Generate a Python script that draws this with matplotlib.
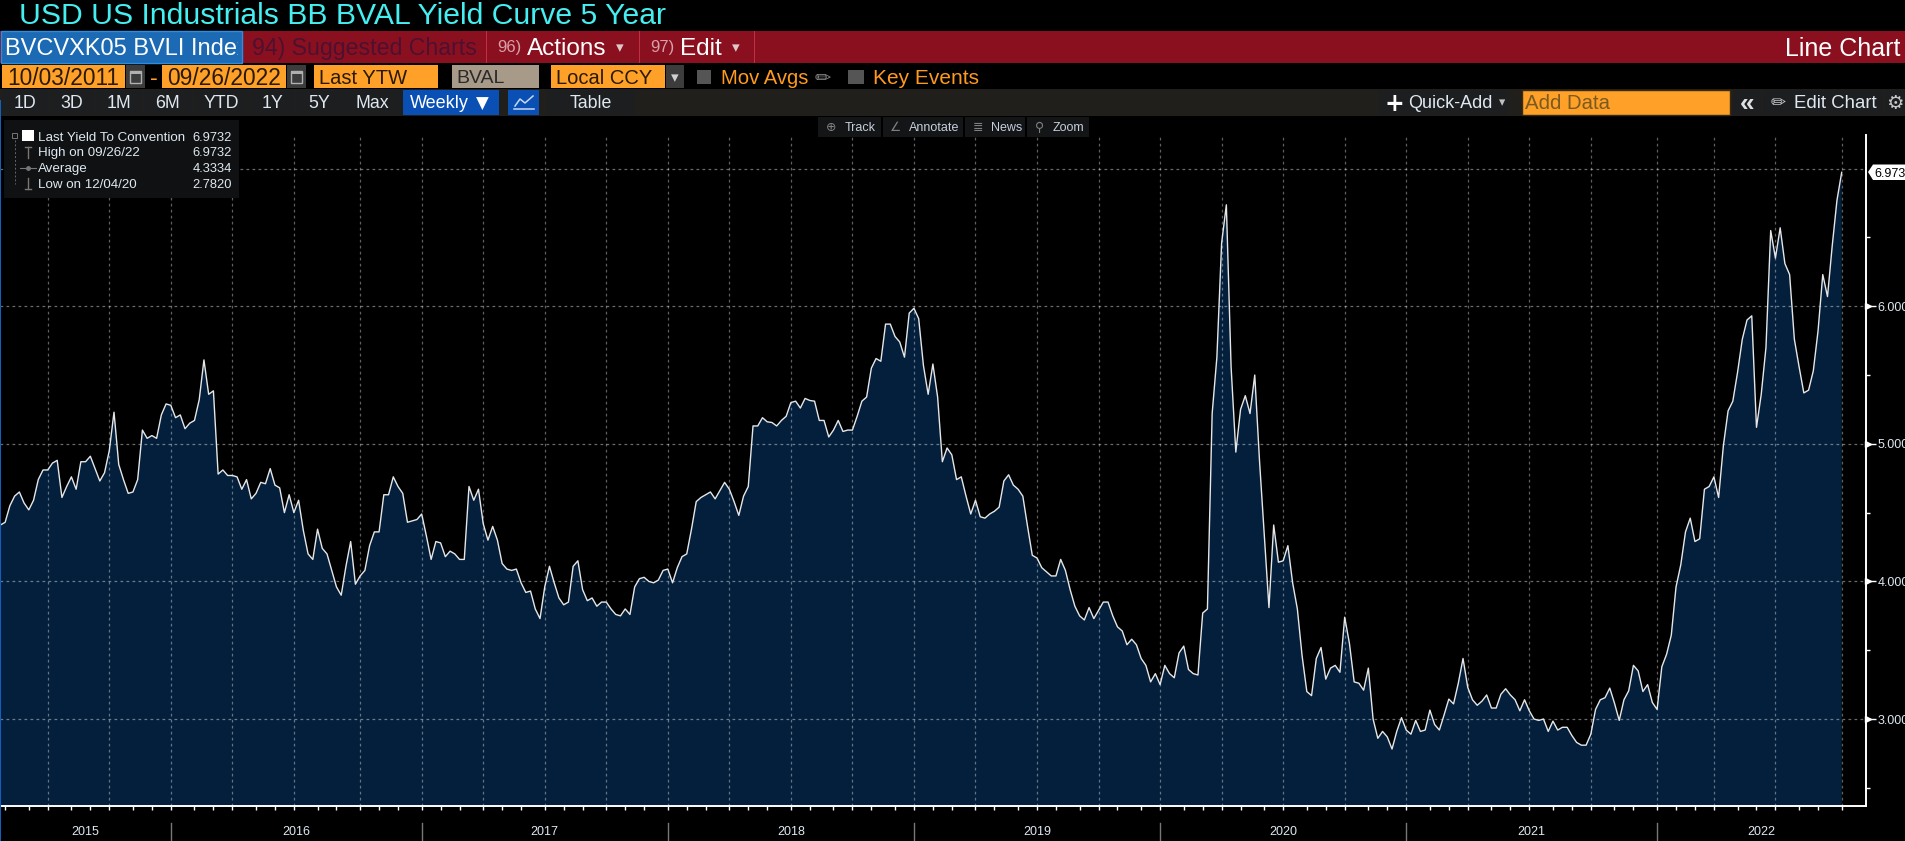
import numpy as np
import pandas as pd
import matplotlib
matplotlib.use("Agg")
import matplotlib.pyplot as plt
from matplotlib.patches import Rectangle, Polygon

# weekly yield, 04/17/2015 -> 09/30/2022
yields = [
    4.41, 4.43, 4.55, 4.62, 4.65, 4.57, 4.52, 4.59, 4.74, 4.81, 4.81, 4.86, 4.88, 4.61, 4.69, 4.76,
    4.67, 4.87, 4.87, 4.91, 4.82, 4.73, 4.79, 4.95, 5.23, 4.85, 4.74, 4.64, 4.65, 4.74, 5.10, 5.04,
    5.06, 5.04, 5.21, 5.29, 5.28, 5.19, 5.21, 5.11, 5.15, 5.17, 5.32, 5.61, 5.36, 5.385, 4.78, 4.81,
    4.77, 4.77, 4.76, 4.67, 4.74, 4.60, 4.64, 4.72, 4.71, 4.82, 4.70, 4.68, 4.50, 4.63, 4.50, 4.59,
    4.37, 4.20, 4.16, 4.38, 4.24, 4.20, 4.08, 3.96, 3.90, 4.11, 4.29, 3.98, 4.04, 4.08, 4.26, 4.36,
    4.36, 4.63, 4.63, 4.76, 4.69, 4.64, 4.43, 4.44, 4.45, 4.49, 4.33, 4.16, 4.29, 4.28, 4.18, 4.22,
    4.20, 4.16, 4.16, 4.69, 4.59, 4.67, 4.42, 4.30, 4.40, 4.30, 4.13, 4.09, 4.08, 4.09, 3.99, 3.92,
    3.93, 3.80, 3.73, 3.96, 4.11, 3.99, 3.88, 3.83, 3.85, 4.11, 4.15, 3.94, 3.86, 3.88, 3.82, 3.85,
    3.85, 3.80, 3.76, 3.75, 3.80, 3.76, 3.96, 4.02, 4.03, 4.00, 3.99, 4.01, 4.08, 4.09, 3.99, 4.10,
    4.18, 4.20, 4.38, 4.58, 4.61, 4.63, 4.65, 4.60, 4.66, 4.72, 4.67, 4.58, 4.48, 4.62, 4.69, 5.13,
    5.13, 5.19, 5.16, 5.155, 5.13, 5.17, 5.20, 5.30, 5.31, 5.26, 5.33, 5.315, 5.31, 5.17, 5.17, 5.05,
    5.10, 5.17, 5.09, 5.10, 5.10, 5.20, 5.31, 5.34, 5.55, 5.62, 5.60, 5.87, 5.87, 5.78, 5.74, 5.63,
    5.95, 5.985, 5.91, 5.57, 5.36, 5.58, 5.34, 4.87, 4.97, 4.92, 4.74, 4.76, 4.62, 4.49, 4.59, 4.47,
    4.46, 4.49, 4.51, 4.54, 4.73, 4.775, 4.70, 4.67, 4.62, 4.40, 4.19, 4.17, 4.10, 4.07, 4.04, 4.04,
    4.16, 4.08, 3.94, 3.82, 3.75, 3.72, 3.81, 3.73, 3.79, 3.85, 3.85, 3.75, 3.67, 3.64, 3.54, 3.58,
    3.54, 3.44, 3.39, 3.27, 3.33, 3.25, 3.39, 3.33, 3.30, 3.48, 3.53, 3.36, 3.33, 3.32, 3.77, 3.80,
    5.22, 5.63, 6.46, 6.737, 5.56, 4.94, 5.25, 5.35, 5.22, 5.50, 4.88, 4.35, 3.81, 4.41, 4.14, 4.15,
    4.26, 3.99, 3.80, 3.46, 3.20, 3.17, 3.44, 3.52, 3.29, 3.37, 3.39, 3.34, 3.74, 3.55, 3.27, 3.26,
    3.21, 3.37, 3.00, 2.86, 2.91, 2.87, 2.782, 2.91, 3.01, 2.92, 2.89, 2.99, 2.91, 2.92, 3.065, 2.96,
    2.92, 3.03, 3.145, 3.11, 3.26, 3.44, 3.23, 3.14, 3.10, 3.13, 3.175, 3.08, 3.08, 3.18, 3.22, 3.175,
    3.14, 3.06, 3.14, 3.06, 3.00, 2.99, 3.00, 2.91, 2.985, 2.92, 2.94, 2.94, 2.88, 2.83, 2.81, 2.81,
    2.89, 3.07, 3.14, 3.155, 3.225, 3.115, 2.99, 3.14, 3.205, 3.39, 3.35, 3.20, 3.25, 3.12, 3.07, 3.38,
    3.47, 3.61, 3.96, 4.12, 4.36, 4.46, 4.29, 4.31, 4.67, 4.69, 4.76, 4.61, 4.985, 5.24, 5.31, 5.52,
    5.76, 5.90, 5.93, 5.12, 5.36, 5.70, 6.55, 6.35, 6.57, 6.31, 6.23, 5.76, 5.56, 5.37, 5.39, 5.53,
    5.82, 6.23, 6.07, 6.44, 6.77, 6.9732,
]
year_labels = ["2015", "2016", "2017", "2018", "2019", "2020", "2021", "2022"]
y_major = [3, 4, 5, 6]
y_minor = [2.5, 3.5, 4.5, 5.5, 6.5]
legend_rows = [
    ("Last Yield To Convention", "6.9732"),
    ("High on 09/26/22", "6.9732"),
    ("Average", "4.3334"),
    ("Low on 12/04/20", "2.7820"),
]

plt.rcParams["font.family"] = ["Liberation Sans", "DejaVu Sans"]

W, H = 1906, 841
RED = "#8a1020"
ORANGE = "#ffa028"
BAR = "#201f1c"
BTN = "#1d1e20"
TXT = "#dfe8f0"

fig = plt.figure(figsize=(W / 100, H / 100), dpi=100, facecolor="black")

# main chart, x axis is just the week number like the terminal does
ax = fig.add_axes([0, 1 - 806 / H, 1865.6 / W, (806 - 134.5) / H], facecolor="black")
week = np.arange(len(yields))
dates = pd.date_range(end="2022-09-30", periods=len(yields), freq="W-FRI")

s = pd.Series(week, index=dates)
month_end = s.groupby(s.index.to_period("M")).last()
quarter_end = month_end[month_end.index.month % 3 == 0]
year_end = month_end[month_end.index.month == 12]

ax.fill_between(week, yields, 0, color="#031f3c", lw=0, zorder=1)
ax.plot(week, yields, color="#e6e6e6", lw=1.0, zorder=4)

ax.set_xlim(-0.085, 394.05)
ax.set_ylim(2.368, 7.248)

for q in quarter_end.values:
    ax.axvline(q, color="white", alpha=0.38, lw=0.9, dashes=(2.2, 2.6), zorder=3)
for v in y_major + [7]:
    ax.axhline(v, color="white", alpha=0.42, lw=0.9, dashes=(2.2, 2.6), zorder=3)

for sp in ["top", "left"]:
    ax.spines[sp].set_visible(False)
for sp in ["bottom", "right"]:
    ax.spines[sp].set_color("white")
    ax.spines[sp].set_linewidth(1.4)

ax.set_xticks(month_end.values)
ax.set_xticklabels([])
ax.tick_params(axis="x", length=3, width=1, color="white", direction="out")

ax.yaxis.tick_right()
ax.set_yticks(y_major)
ax.set_yticklabels(["%.3f" % v for v in y_major], color=TXT)
ax.set_yticks(y_minor, minor=True)
ax.tick_params(axis="y", which="major", length=7, width=1, color="white", pad=1.5, labelsize=9)
ax.tick_params(axis="y", which="minor", length=3, width=1, color="white")
ax.plot([1.0015] * len(y_major), y_major, ls="", marker=">", ms=4.5, color="white",
        transform=ax.get_yaxis_transform(), clip_on=False, zorder=6)

# year band under the axis
edges = [0] + list(year_end.values) + [394.05]
for e in year_end.values:
    ax.plot([e, e], [-0.025, -0.05], color="#777777", lw=1,
            transform=ax.get_xaxis_transform(), clip_on=False)
for i, lab in enumerate(year_labels):
    ax.text((edges[i] + edges[i + 1]) / 2, -0.0387, lab, color=TXT, fontsize=9, ha="center",
            va="center", transform=ax.get_xaxis_transform(), clip_on=False)

# terminal chrome, pixel coordinates
ui = fig.add_axes([0, 0, 1, 1], facecolor="none", zorder=10)
ui.set_xlim(0, W)
ui.set_ylim(H, 0)
ui.axis("off")


def box(x0, x1, y0, y1, color, edge="none", lw=0):
    ui.add_patch(Rectangle((x0, y0), x1 - x0, y1 - y0, facecolor=color, edgecolor=edge, lw=lw))


def label(x, y, txt, color="white", size=15, ha="left", **kw):
    return ui.text(x, y - 1, txt, color=color, fontsize=size, ha=ha, va="center_baseline", **kw)


label(19, 14, "USD US Industrials BB BVAL Yield Curve 5 Year", color="#45eef0", size=21.7)

# red command bar
box(0, W, 31, 63, RED)
box(1, 242, 31, 63, "#1c6ab4", edge="#2f8de0", lw=1)
t = label(5, 47, "BVCVXK05 BVLI Index", size=17)
t.set_clip_path(Rectangle((2, 31), 236, 32, transform=ui.transData))
t.set_clip_on(True)
label(252, 47, "94) Suggested Charts", color="#4e1030", size=16.7)
for xs in [486, 639, 754]:
    box(xs, xs + 1.5, 31, 63, "#c03040")
label(497, 47, "96)", color="#d8a0a8", size=12)
label(527, 47, "Actions", size=17.5)
label(620, 47, "▾", color="#e0c8c8", size=11, ha="center", family=["DejaVu Sans"])
label(650, 47, "97)", color="#d8a0a8", size=12)
label(680, 47, "Edit", size=17.5)
label(736, 47, "▾", color="#e0c8c8", size=11, ha="center", family=["DejaVu Sans"])
label(1900, 47, "Line Chart", size=18, ha="right")

# orange selector row
for x0, x1, txt, sz in [(2, 125, "10/03/2011", 16.4), (162, 286, "09/26/2022", 16.4),
                        (314, 438, "Last YTW", 14.5), (551, 665, "Local CCY", 14.5)]:
    box(x0, x1, 65, 88, ORANGE)
    label(x0 + 5, 77, txt, color="#2a1a05", size=sz)
box(452, 539, 65, 88, "#a89a88")
label(456, 77, "BVAL", color="#2a2a2a", size=14)
label(154, 77, "-", color=ORANGE, size=17, ha="center")
for x0 in [126, 287]:
    box(x0, x0 + 19, 65, 88, "#3c3c3c")
    box(x0 + 4, x0 + 15, 71, 83, "none", edge="#b0b0b0", lw=1)
    box(x0 + 4, x0 + 15, 71, 74, "#b0b0b0")
box(666, 684, 65, 88, "#3c3c3c")
label(675, 77, "▾", color="#d0d0d0", size=11, ha="center", family=["DejaVu Sans"])
box(697, 711, 70, 84, "#555555")
label(721, 77, "Mov Avgs", color="#ff9a1f", size=14.6)
label(823, 77, "✏", color="#8a8a8a", size=14, ha="center", family=["DejaVu Sans"])
box(848, 864, 70, 84, "#555555")
label(873, 77, "Key Events", color="#ff9a1f", size=15)

# date range buttons
box(0, W, 89, 116, BAR)
for x0, x1, txt in [(2, 48, "1D"), (49, 95, "3D"), (96, 143, "1M"), (144, 192, "6M"), (193, 249, "YTD"),
                    (250, 295, "1Y"), (296, 342, "5Y"), (343, 402, "Max"), (547, 635, "Table")]:
    box(x0, x1, 90, 115, BTN)
    label((x0 + x1) / 2, 102.5, txt, color=TXT, size=12.8, ha="center")
box(403, 499, 90, 115, "#0a50b4")
label(410, 102.5, "Weekly", size=13)
label(482, 102.5, "▼", size=12, ha="center", family=["DejaVu Sans"])
box(508, 539, 90, 115, "#0a50b4")
ui.plot([515, 520, 525, 533], [106, 99, 103, 96], color="#c8d8f0", lw=1.1)
ui.plot([514, 534], [109, 109], color="#c8d8f0", lw=1.1)

box(1379, 1508, 90, 115, BTN)
label(1394, 102.5, "+", size=17, ha="center", family=["DejaVu Sans"], fontweight="bold")
label(1408, 102.5, "Quick-Add", color=TXT, size=13)
label(1505, 102.5, "▾", color="#c0c0c0", size=9, ha="right", family=["DejaVu Sans"])
box(1522, 1730, 90, 115, ORANGE, edge="#3a2a10", lw=1)
label(1525, 102.5, "Add Data", color="#7a5a20", size=14.7)
box(1733, 1761, 90, 115, BTN)
label(1747, 102.5, "«", color="#e0e0e0", size=19, ha="center", fontweight="bold")
box(1763, 1883, 90, 115, BTN)
label(1778, 102.5, "✏", color="#c8c8c8", size=13, ha="center", family=["DejaVu Sans"])
label(1794, 102.5, "Edit Chart", color=TXT, size=13.4)
box(1885, W, 90, 115, BTN)
label(1895, 102.5, "⚙", color="#c8c8c8", size=14, ha="center", family=["DejaVu Sans"])

# little floating toolbar
for x0, x1, icon, txt, tx in [(818, 881, "⊕", "Track", 845), (883, 963, "∠", "Annotate", 909),
                              (965, 1025, "≣", "News", 991), (1027, 1089, "⚲", "Zoom", 1053)]:
    box(x0, x1, 117, 137, "#141516")
    label(x0 + 13, 127, icon, color="#808080", size=9, ha="center", family=["DejaVu Sans"])
    label(tx, 127, txt, color="#c4d0dc", size=9)

# legend box
box(4, 239, 120, 198, "#101112")
box(22, 34, 130, 141, "white")
box(12, 17, 133, 138, "none", edge="#777777", lw=0.7)
ui.plot([15, 15], [140, 184], color="#666666", lw=0.7, dashes=(2, 2))
row_y = [137, 152, 168, 184]
for (name, val), y in zip(legend_rows, row_y):
    label(38, y, name, color=TXT, size=9.6)
    label(232, y, val, color=TXT, size=9.3, ha="right")
ui.plot([28, 28], [147, 158], color="#777777", lw=1)
ui.plot([25, 31], [147, 147], color="#777777", lw=1)
ui.plot([20, 36], [168, 168], color="#777777", lw=0.8)
ui.plot([28], [168], marker="o", ms=2.5, color="#777777")
ui.plot([28, 28], [178, 189], color="#777777", lw=1)
ui.plot([25, 31], [189, 189], color="#777777", lw=1)

# last value flag
ui.add_patch(Polygon([(1868, 172), (1873, 164.5), (W, 164.5), (W, 180), (1873, 180)],
                     facecolor="white", edgecolor="none"))
label(1874, 173, "%.3f" % yields[-1], color="black", size=9)

# blue window edge
box(0, 1.2, 100, H, "#1060c0")

fig.savefig("out.png", dpi=100, facecolor="black")
